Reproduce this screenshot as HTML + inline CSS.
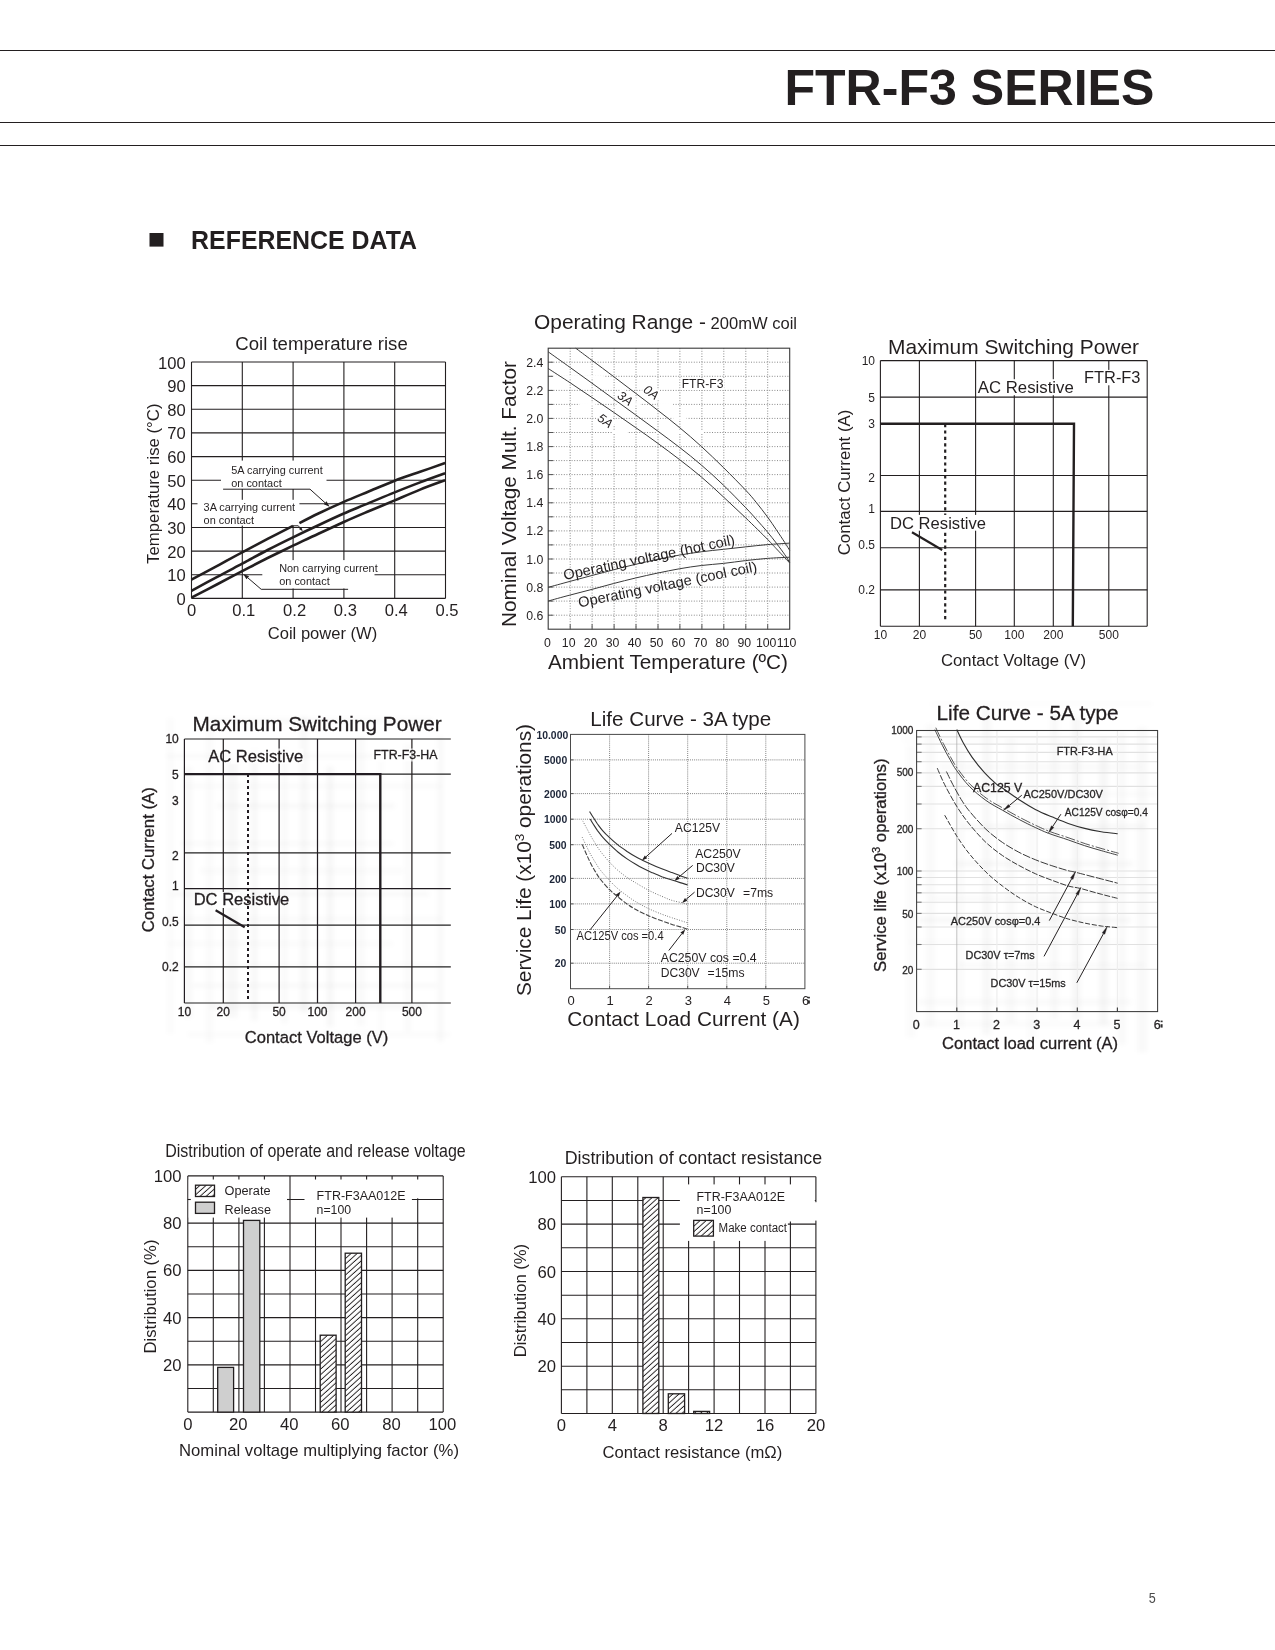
<!DOCTYPE html>
<html><head><meta charset="utf-8"><title>FTR-F3 SERIES</title>
<style>
html,body{margin:0;padding:0;background:#fff;overflow:hidden;}
svg{display:block;font-family:"Liberation Sans",sans-serif;fill:#231f20;}
</style></head><body>
<svg width="1275" height="1650" viewBox="0 0 1275 1650">
<defs>
<pattern id="hatch" patternUnits="userSpaceOnUse" width="4.1" height="4.1" patternTransform="rotate(-42)">
<rect x="0" y="0" width="4.1" height="4.1" fill="#fff"/>
<line x1="-1" y1="2" x2="5.1" y2="2" stroke="#231f20" stroke-width="0.95"/>
</pattern>
<filter id="noop" x="0" y="0" width="1275" height="1650" filterUnits="userSpaceOnUse"><feOffset dx="0" dy="0"/></filter>
<filter id="blurH" x="-5%" y="-5%" width="110%" height="110%"><feGaussianBlur stdDeviation="2.2"/></filter>
<filter id="blur4" x="-5%" y="-5%" width="110%" height="110%"><feGaussianBlur stdDeviation="0.45"/></filter>
</defs>
<rect x="0" y="0" width="1275" height="1650" fill="#fff"/>
<g filter="url(#noop)">
<line x1="0.0" y1="50.5" x2="1275.0" y2="50.5" stroke="#231f20" stroke-width="1" />
<line x1="0.0" y1="122.5" x2="1275.0" y2="122.5" stroke="#231f20" stroke-width="1" />
<line x1="0.0" y1="145.5" x2="1275.0" y2="145.5" stroke="#231f20" stroke-width="1" />
<text x="784.4" y="104.8" font-size="50" textLength="370.0" lengthAdjust="spacingAndGlyphs" font-weight="bold" >FTR-F3 SERIES</text>
<rect x="149.5" y="233.0" width="14.0" height="13.6" fill="#231f20" stroke="none" stroke-width="1" />
<text x="191.1" y="248.7" font-size="25" textLength="226.0" lengthAdjust="spacingAndGlyphs" font-weight="bold" >REFERENCE DATA</text>
<text x="1148.8" y="1603.0" font-size="14" textLength="7.0" lengthAdjust="spacingAndGlyphs" fill="#4a4a4a" >5</text>
<line x1="191.5" y1="362.0" x2="191.5" y2="598.4" stroke="#231f20" stroke-width="1.1" />
<line x1="242.3" y1="362.0" x2="242.3" y2="598.4" stroke="#231f20" stroke-width="1.1" />
<line x1="293.1" y1="362.0" x2="293.1" y2="598.4" stroke="#231f20" stroke-width="1.1" />
<line x1="343.9" y1="362.0" x2="343.9" y2="598.4" stroke="#231f20" stroke-width="1.1" />
<line x1="394.7" y1="362.0" x2="394.7" y2="598.4" stroke="#231f20" stroke-width="1.1" />
<line x1="445.5" y1="362.0" x2="445.5" y2="598.4" stroke="#231f20" stroke-width="1.1" />
<line x1="191.5" y1="362.0" x2="445.5" y2="362.0" stroke="#231f20" stroke-width="1.1" />
<line x1="191.5" y1="385.6" x2="445.5" y2="385.6" stroke="#231f20" stroke-width="1.1" />
<line x1="191.5" y1="409.3" x2="445.5" y2="409.3" stroke="#231f20" stroke-width="1.1" />
<line x1="191.5" y1="432.9" x2="445.5" y2="432.9" stroke="#231f20" stroke-width="1.1" />
<line x1="191.5" y1="456.6" x2="445.5" y2="456.6" stroke="#231f20" stroke-width="1.1" />
<line x1="191.5" y1="480.2" x2="445.5" y2="480.2" stroke="#231f20" stroke-width="1.1" />
<line x1="191.5" y1="503.8" x2="445.5" y2="503.8" stroke="#231f20" stroke-width="1.1" />
<line x1="191.5" y1="527.5" x2="445.5" y2="527.5" stroke="#231f20" stroke-width="1.1" />
<line x1="191.5" y1="551.1" x2="445.5" y2="551.1" stroke="#231f20" stroke-width="1.1" />
<line x1="191.5" y1="574.8" x2="445.5" y2="574.8" stroke="#231f20" stroke-width="1.1" />
<line x1="191.5" y1="598.4" x2="445.5" y2="598.4" stroke="#231f20" stroke-width="1.1" />
<rect x="221.0" y="460.6" width="105.5" height="28.4" fill="#fff" stroke="none" stroke-width="1" />
<rect x="197.5" y="499.8" width="101.9" height="25.8" fill="#fff" stroke="none" stroke-width="1" />
<rect x="262.3" y="560.1" width="112.2" height="28.4" fill="#fff" stroke="none" stroke-width="1" />
<text x="321.5" y="349.7" font-size="18.7" text-anchor="middle" textLength="172.5" lengthAdjust="spacingAndGlyphs" >Coil temperature rise</text>
<text x="185.8" y="368.5" font-size="16.6" text-anchor="end" >100</text>
<text x="185.8" y="392.1" font-size="16.6" text-anchor="end" >90</text>
<text x="185.8" y="415.8" font-size="16.6" text-anchor="end" >80</text>
<text x="185.8" y="439.4" font-size="16.6" text-anchor="end" >70</text>
<text x="185.8" y="463.1" font-size="16.6" text-anchor="end" >60</text>
<text x="185.8" y="486.7" font-size="16.6" text-anchor="end" >50</text>
<text x="185.8" y="510.3" font-size="16.6" text-anchor="end" >40</text>
<text x="185.8" y="534.0" font-size="16.6" text-anchor="end" >30</text>
<text x="185.8" y="557.6" font-size="16.6" text-anchor="end" >20</text>
<text x="185.8" y="581.3" font-size="16.6" text-anchor="end" >10</text>
<text x="185.8" y="604.9" font-size="16.6" text-anchor="end" >0</text>
<text x="191.5" y="616.4" font-size="16.6" text-anchor="middle" >0</text>
<text x="243.8" y="616.4" font-size="16.6" text-anchor="middle" >0.1</text>
<text x="294.6" y="616.4" font-size="16.6" text-anchor="middle" >0.2</text>
<text x="345.4" y="616.4" font-size="16.6" text-anchor="middle" >0.3</text>
<text x="396.2" y="616.4" font-size="16.6" text-anchor="middle" >0.4</text>
<text x="447.0" y="616.4" font-size="16.6" text-anchor="middle" >0.5</text>
<text x="322.5" y="638.6" font-size="16.6" text-anchor="middle" textLength="109.5" lengthAdjust="spacingAndGlyphs" >Coil power (W)</text>
<text x="159.1" y="483.7" font-size="16.6" text-anchor="middle" textLength="160.5" lengthAdjust="spacingAndGlyphs" transform="rotate(-90 159.1 483.7)" >Temperature rise (°C)</text>
<path d="M191.4,579.6 C195.6,577.3 208.3,570.6 216.8,566.1 C225.2,561.5 233.7,556.8 242.2,552.3 C250.7,547.8 259.1,543.4 267.6,538.9 C276.1,534.5 288.8,528.0 293.0,525.8" fill="none" stroke="#231f20" stroke-width="2.6" stroke-linecap="butt"/>
<path d="M299.4,523.1 C302.5,521.5 311.0,517.1 318.4,513.5 C325.8,510.0 335.4,505.6 343.8,501.9 C352.3,498.2 360.8,494.8 369.2,491.3 C377.7,487.8 386.2,484.0 394.7,480.7 C403.1,477.5 411.7,474.7 420.1,471.8 C428.5,468.9 440.9,464.6 445.1,463.1" fill="none" stroke="#231f20" stroke-width="2.6" stroke-linecap="butt"/>
<path d="M191.4,590.8 C195.6,588.5 208.3,581.6 216.8,577.1 C225.2,572.5 233.7,568.2 242.2,563.7 C250.7,559.2 259.1,554.4 267.6,550.0 C276.1,545.5 284.5,541.4 293.0,537.3 C301.5,533.1 309.9,529.1 318.4,525.2 C326.9,521.2 335.4,517.2 343.8,513.5 C352.3,509.8 360.8,506.5 369.2,502.9 C377.7,499.4 386.2,495.8 394.7,492.4 C403.1,488.9 411.7,485.6 420.1,482.4 C428.5,479.2 440.9,474.8 445.1,473.3" fill="none" stroke="#231f20" stroke-width="2.6" stroke-linecap="butt"/>
<path d="M191.4,597.6 C195.6,595.4 208.3,588.9 216.8,584.5 C225.2,580.1 233.7,575.5 242.2,571.1 C250.7,566.7 259.1,562.2 267.6,558.0 C276.1,553.8 284.5,549.8 293.0,545.7 C301.5,541.7 309.9,537.6 318.4,533.7 C326.9,529.7 335.4,525.8 343.8,522.0 C352.3,518.2 360.8,514.6 369.2,511.0 C377.7,507.4 386.2,504.0 394.7,500.4 C403.1,496.8 411.7,493.0 420.1,489.6 C428.5,486.2 440.9,481.8 445.1,480.3" fill="none" stroke="#231f20" stroke-width="2.6" stroke-linecap="butt"/>
<text x="231.2" y="473.9" font-size="10.85" textLength="91.5" lengthAdjust="spacingAndGlyphs" >5A carrying current</text>
<text x="231.2" y="487.1" font-size="10.85" textLength="50.5" lengthAdjust="spacingAndGlyphs" >on contact</text>
<text x="203.6" y="510.8" font-size="10.85" textLength="91.5" lengthAdjust="spacingAndGlyphs" >3A carrying current</text>
<text x="203.6" y="523.7" font-size="10.85" textLength="50.5" lengthAdjust="spacingAndGlyphs" >on contact</text>
<text x="279.2" y="572.2" font-size="10.85" textLength="98.5" lengthAdjust="spacingAndGlyphs" >Non carrying current</text>
<text x="279.2" y="585.1" font-size="10.85" textLength="50.5" lengthAdjust="spacingAndGlyphs" >on contact</text>
<line x1="223.1" y1="489.2" x2="310.0" y2="489.2" stroke="#231f20" stroke-width="1" />
<line x1="310.0" y1="489.2" x2="325.1" y2="502.8" stroke="#231f20" stroke-width="1" />
<polygon points="329.6,506.8 323.8,504.3 326.5,501.3" fill="#231f20"/>
<line x1="293.0" y1="525.8" x2="298.3" y2="525.8" stroke="#231f20" stroke-width="1" />
<line x1="298.3" y1="525.8" x2="300.2" y2="528.1" stroke="#231f20" stroke-width="1" />
<polygon points="302.7,531.2 298.9,529.1 301.4,527.1" fill="#231f20"/>
<line x1="348.1" y1="589.3" x2="261.2" y2="589.3" stroke="#231f20" stroke-width="1" />
<line x1="261.2" y1="589.3" x2="247.8" y2="577.8" stroke="#231f20" stroke-width="1" />
<polygon points="243.2,573.9 249.1,576.3 246.5,579.3" fill="#231f20"/>
<line x1="570.2" y1="348.2" x2="570.2" y2="629.2" stroke="#8a8a8a" stroke-width="1" stroke-dasharray="1 1.6"/>
<line x1="592.1" y1="348.2" x2="592.1" y2="629.2" stroke="#8a8a8a" stroke-width="1" stroke-dasharray="1 1.6"/>
<line x1="614.1" y1="348.2" x2="614.1" y2="629.2" stroke="#8a8a8a" stroke-width="1" stroke-dasharray="1 1.6"/>
<line x1="636.0" y1="348.2" x2="636.0" y2="629.2" stroke="#8a8a8a" stroke-width="1" stroke-dasharray="1 1.6"/>
<line x1="658.0" y1="348.2" x2="658.0" y2="629.2" stroke="#8a8a8a" stroke-width="1" stroke-dasharray="1 1.6"/>
<line x1="679.9" y1="348.2" x2="679.9" y2="629.2" stroke="#8a8a8a" stroke-width="1" stroke-dasharray="1 1.6"/>
<line x1="701.9" y1="348.2" x2="701.9" y2="629.2" stroke="#8a8a8a" stroke-width="1" stroke-dasharray="1 1.6"/>
<line x1="723.8" y1="348.2" x2="723.8" y2="629.2" stroke="#8a8a8a" stroke-width="1" stroke-dasharray="1 1.6"/>
<line x1="745.8" y1="348.2" x2="745.8" y2="629.2" stroke="#8a8a8a" stroke-width="1" stroke-dasharray="1 1.6"/>
<line x1="767.7" y1="348.2" x2="767.7" y2="629.2" stroke="#8a8a8a" stroke-width="1" stroke-dasharray="1 1.6"/>
<line x1="548.2" y1="362.2" x2="789.7" y2="362.2" stroke="#8a8a8a" stroke-width="1" stroke-dasharray="1 1.6"/>
<line x1="548.2" y1="376.3" x2="789.7" y2="376.3" stroke="#8a8a8a" stroke-width="1" stroke-dasharray="1 1.6"/>
<line x1="548.2" y1="390.4" x2="789.7" y2="390.4" stroke="#8a8a8a" stroke-width="1" stroke-dasharray="1 1.6"/>
<line x1="548.2" y1="404.4" x2="789.7" y2="404.4" stroke="#8a8a8a" stroke-width="1" stroke-dasharray="1 1.6"/>
<line x1="548.2" y1="418.4" x2="789.7" y2="418.4" stroke="#8a8a8a" stroke-width="1" stroke-dasharray="1 1.6"/>
<line x1="548.2" y1="432.5" x2="789.7" y2="432.5" stroke="#8a8a8a" stroke-width="1" stroke-dasharray="1 1.6"/>
<line x1="548.2" y1="446.6" x2="789.7" y2="446.6" stroke="#8a8a8a" stroke-width="1" stroke-dasharray="1 1.6"/>
<line x1="548.2" y1="460.6" x2="789.7" y2="460.6" stroke="#8a8a8a" stroke-width="1" stroke-dasharray="1 1.6"/>
<line x1="548.2" y1="474.6" x2="789.7" y2="474.6" stroke="#8a8a8a" stroke-width="1" stroke-dasharray="1 1.6"/>
<line x1="548.2" y1="488.7" x2="789.7" y2="488.7" stroke="#8a8a8a" stroke-width="1" stroke-dasharray="1 1.6"/>
<line x1="548.2" y1="502.8" x2="789.7" y2="502.8" stroke="#8a8a8a" stroke-width="1" stroke-dasharray="1 1.6"/>
<line x1="548.2" y1="516.8" x2="789.7" y2="516.8" stroke="#8a8a8a" stroke-width="1" stroke-dasharray="1 1.6"/>
<line x1="548.2" y1="530.9" x2="789.7" y2="530.9" stroke="#8a8a8a" stroke-width="1" stroke-dasharray="1 1.6"/>
<line x1="548.2" y1="544.9" x2="789.7" y2="544.9" stroke="#8a8a8a" stroke-width="1" stroke-dasharray="1 1.6"/>
<line x1="548.2" y1="559.0" x2="789.7" y2="559.0" stroke="#8a8a8a" stroke-width="1" stroke-dasharray="1 1.6"/>
<line x1="548.2" y1="573.0" x2="789.7" y2="573.0" stroke="#8a8a8a" stroke-width="1" stroke-dasharray="1 1.6"/>
<line x1="548.2" y1="587.1" x2="789.7" y2="587.1" stroke="#8a8a8a" stroke-width="1" stroke-dasharray="1 1.6"/>
<line x1="548.2" y1="601.1" x2="789.7" y2="601.1" stroke="#8a8a8a" stroke-width="1" stroke-dasharray="1 1.6"/>
<line x1="548.2" y1="615.2" x2="789.7" y2="615.2" stroke="#8a8a8a" stroke-width="1" stroke-dasharray="1 1.6"/>
<line x1="548.2" y1="362.2" x2="553.2" y2="362.2" stroke="#555" stroke-width="1" />
<line x1="548.2" y1="376.3" x2="553.2" y2="376.3" stroke="#555" stroke-width="1" />
<line x1="548.2" y1="390.4" x2="553.2" y2="390.4" stroke="#555" stroke-width="1" />
<line x1="548.2" y1="404.4" x2="553.2" y2="404.4" stroke="#555" stroke-width="1" />
<line x1="548.2" y1="418.4" x2="553.2" y2="418.4" stroke="#555" stroke-width="1" />
<line x1="548.2" y1="432.5" x2="553.2" y2="432.5" stroke="#555" stroke-width="1" />
<line x1="548.2" y1="446.6" x2="553.2" y2="446.6" stroke="#555" stroke-width="1" />
<line x1="548.2" y1="460.6" x2="553.2" y2="460.6" stroke="#555" stroke-width="1" />
<line x1="548.2" y1="474.6" x2="553.2" y2="474.6" stroke="#555" stroke-width="1" />
<line x1="548.2" y1="488.7" x2="553.2" y2="488.7" stroke="#555" stroke-width="1" />
<line x1="548.2" y1="502.8" x2="553.2" y2="502.8" stroke="#555" stroke-width="1" />
<line x1="548.2" y1="516.8" x2="553.2" y2="516.8" stroke="#555" stroke-width="1" />
<line x1="548.2" y1="530.9" x2="553.2" y2="530.9" stroke="#555" stroke-width="1" />
<line x1="548.2" y1="544.9" x2="553.2" y2="544.9" stroke="#555" stroke-width="1" />
<line x1="548.2" y1="559.0" x2="553.2" y2="559.0" stroke="#555" stroke-width="1" />
<line x1="548.2" y1="573.0" x2="553.2" y2="573.0" stroke="#555" stroke-width="1" />
<line x1="548.2" y1="587.1" x2="553.2" y2="587.1" stroke="#555" stroke-width="1" />
<line x1="548.2" y1="601.1" x2="553.2" y2="601.1" stroke="#555" stroke-width="1" />
<line x1="548.2" y1="615.2" x2="553.2" y2="615.2" stroke="#555" stroke-width="1" />
<line x1="570.2" y1="624.2" x2="570.2" y2="629.2" stroke="#555" stroke-width="1" />
<line x1="592.1" y1="624.2" x2="592.1" y2="629.2" stroke="#555" stroke-width="1" />
<line x1="614.1" y1="624.2" x2="614.1" y2="629.2" stroke="#555" stroke-width="1" />
<line x1="636.0" y1="624.2" x2="636.0" y2="629.2" stroke="#555" stroke-width="1" />
<line x1="658.0" y1="624.2" x2="658.0" y2="629.2" stroke="#555" stroke-width="1" />
<line x1="679.9" y1="624.2" x2="679.9" y2="629.2" stroke="#555" stroke-width="1" />
<line x1="701.9" y1="624.2" x2="701.9" y2="629.2" stroke="#555" stroke-width="1" />
<line x1="723.8" y1="624.2" x2="723.8" y2="629.2" stroke="#555" stroke-width="1" />
<line x1="745.8" y1="624.2" x2="745.8" y2="629.2" stroke="#555" stroke-width="1" />
<line x1="767.7" y1="624.2" x2="767.7" y2="629.2" stroke="#555" stroke-width="1" />
<rect x="548.2" y="348.2" width="241.5" height="281.0" fill="none" stroke="#3a3a3a" stroke-width="1.1" />
<text x="534.0" y="328.8" font-size="20.5" textLength="172.0" lengthAdjust="spacingAndGlyphs" >Operating Range - </text>
<text x="710.5" y="328.8" font-size="16.6" textLength="86.5" lengthAdjust="spacingAndGlyphs" >200mW coil</text>
<text x="515.8" y="494.0" font-size="20.7" text-anchor="middle" textLength="266.0" lengthAdjust="spacingAndGlyphs" transform="rotate(-90 515.8 494.0)" >Nominal Voltage Mult. Factor</text>
<text x="668.0" y="668.7" font-size="20.7" text-anchor="middle" textLength="240.0" lengthAdjust="spacingAndGlyphs" >Ambient Temperature (ºC)</text>
<text x="543.4" y="366.8" font-size="12.3" text-anchor="end" >2.4</text>
<text x="543.4" y="394.9" font-size="12.3" text-anchor="end" >2.2</text>
<text x="543.4" y="422.9" font-size="12.3" text-anchor="end" >2.0</text>
<text x="543.4" y="451.1" font-size="12.3" text-anchor="end" >1.8</text>
<text x="543.4" y="479.1" font-size="12.3" text-anchor="end" >1.6</text>
<text x="543.4" y="507.2" font-size="12.3" text-anchor="end" >1.4</text>
<text x="543.4" y="535.4" font-size="12.3" text-anchor="end" >1.2</text>
<text x="543.4" y="563.5" font-size="12.3" text-anchor="end" >1.0</text>
<text x="543.4" y="591.6" font-size="12.3" text-anchor="end" >0.8</text>
<text x="543.4" y="619.7" font-size="12.3" text-anchor="end" >0.6</text>
<text x="547.4" y="647.4" font-size="12.3" text-anchor="middle" >0</text>
<text x="568.7" y="647.4" font-size="12.3" text-anchor="middle" >10</text>
<text x="590.6" y="647.4" font-size="12.3" text-anchor="middle" >20</text>
<text x="612.6" y="647.4" font-size="12.3" text-anchor="middle" >30</text>
<text x="634.5" y="647.4" font-size="12.3" text-anchor="middle" >40</text>
<text x="656.5" y="647.4" font-size="12.3" text-anchor="middle" >50</text>
<text x="678.4" y="647.4" font-size="12.3" text-anchor="middle" >60</text>
<text x="700.4" y="647.4" font-size="12.3" text-anchor="middle" >70</text>
<text x="722.3" y="647.4" font-size="12.3" text-anchor="middle" >80</text>
<text x="744.3" y="647.4" font-size="12.3" text-anchor="middle" >90</text>
<text x="766.2" y="647.4" font-size="12.3" text-anchor="middle" >100</text>
<text x="786.6" y="647.4" font-size="12.3" text-anchor="middle" >110</text>
<path d="M548.3,587.3 C551.9,586.3 562.6,583.4 569.9,581.4 C577.2,579.4 584.6,577.4 591.9,575.5 C599.2,573.6 606.3,571.7 613.6,569.8 C620.9,567.9 628.3,566.0 635.6,564.3 C642.9,562.6 650.2,560.9 657.5,559.4 C664.8,557.9 672.0,556.4 679.3,555.1 C686.6,553.8 693.9,552.8 701.3,551.8 C708.7,550.8 716.1,550.1 723.5,549.3 C730.9,548.5 738.2,547.7 745.5,546.9 C752.8,546.1 760.0,545.2 767.4,544.6 C774.8,544.0 786.0,543.4 789.7,543.1" fill="none" stroke="#3a3a3a" stroke-width="1" />
<path d="M548.3,601.0 C551.9,600.0 562.6,597.0 569.9,595.1 C577.2,593.2 584.6,591.3 591.9,589.4 C599.2,587.5 606.3,585.4 613.6,583.5 C620.9,581.6 628.3,579.7 635.6,578.0 C642.9,576.3 650.2,574.6 657.5,573.1 C664.8,571.6 672.0,570.1 679.3,568.8 C686.6,567.5 693.9,566.4 701.3,565.5 C708.7,564.6 716.1,564.2 723.5,563.4 C730.9,562.6 738.2,561.4 745.5,560.6 C752.8,559.8 760.0,559.0 767.4,558.4 C774.8,557.8 786.0,557.4 789.7,557.2" fill="none" stroke="#3a3a3a" stroke-width="1" />
<rect x="553.2" y="375.4" width="50.7" height="2.4" fill="#fff" stroke="none" stroke-width="1" />
<rect x="579.3" y="403.1" width="16.4" height="2.4" fill="#fff" stroke="none" stroke-width="1" />
<rect x="616.5" y="403.1" width="23.9" height="2.4" fill="#fff" stroke="none" stroke-width="1" />
<rect x="658.3" y="403.1" width="14.9" height="2.4" fill="#fff" stroke="none" stroke-width="1" />
<rect x="673.2" y="417.1" width="13.4" height="2.4" fill="#fff" stroke="none" stroke-width="1" />
<rect x="612.0" y="431.0" width="15.7" height="2.4" fill="#fff" stroke="none" stroke-width="1" />
<rect x="657.0" y="431.0" width="46.0" height="2.4" fill="#fff" stroke="none" stroke-width="1" />
<rect x="680.6" y="378.0" width="43.6" height="11.9" fill="#fff" stroke="none" stroke-width="1" />
<rect x="642.0" y="380.8" width="18" height="12.5" fill="#fff" transform="rotate(36 642.5 391.3)"/>
<rect x="616.0" y="386.8" width="18" height="12.5" fill="#fff" transform="rotate(36 616.5 397.3)"/>
<rect x="596.0" y="409.2" width="18" height="12.5" fill="#fff" transform="rotate(36 596.5 419.7)"/>
<path d="M575.7,348.2 C578.4,350.2 585.6,355.6 592.0,360.4 C598.4,365.1 606.5,371.2 613.8,376.7 C621.1,382.2 628.5,387.8 635.8,393.4 C643.2,399.0 650.6,404.6 657.9,410.4 C665.2,416.1 672.4,421.6 679.7,427.7 C687.0,433.7 694.2,439.9 701.5,446.6 C708.8,453.3 716.2,460.4 723.5,467.6 C730.8,474.8 740.0,484.2 745.5,490.0 C751.0,495.8 752.8,498.1 756.4,502.6 C760.0,507.1 764.1,512.3 767.4,516.8 C770.7,521.3 773.4,525.4 776.3,529.7 C779.2,534.0 782.7,539.2 784.9,542.7 C787.1,546.2 788.9,549.1 789.7,550.4" fill="none" stroke="#3a3a3a" stroke-width="1" />
<path d="M548.2,351.8 C551.8,354.4 562.9,362.3 570.2,367.5 C577.5,372.8 584.7,378.0 592.0,383.2 C599.3,388.5 606.5,393.8 613.8,399.1 C621.1,404.4 628.5,409.7 635.8,415.0 C643.2,420.4 650.6,425.7 657.9,431.2 C665.2,436.6 672.4,441.8 679.7,447.5 C687.0,453.1 694.2,458.9 701.5,465.2 C708.8,471.5 716.2,478.1 723.5,485.2 C730.8,492.2 740.0,501.8 745.5,507.5 C751.0,513.2 752.8,515.3 756.4,519.4 C760.0,523.5 764.1,527.9 767.4,531.9 C770.7,535.9 773.4,539.3 776.3,543.1 C779.2,546.9 782.7,551.6 784.9,554.8 C787.1,558.0 788.9,561.2 789.7,562.5" fill="none" stroke="#3a3a3a" stroke-width="1" />
<path d="M548.2,368.5 C551.8,370.9 562.9,378.0 570.2,382.8 C577.5,387.6 584.7,392.6 592.0,397.5 C599.3,402.4 606.5,407.4 613.8,412.4 C621.1,417.4 628.5,422.5 635.8,427.7 C643.2,432.8 650.6,438.0 657.9,443.4 C665.2,448.7 672.4,454.1 679.7,459.7 C687.0,465.3 694.2,470.9 701.5,477.1 C708.8,483.3 716.2,490.2 723.5,497.0 C730.8,503.8 738.2,510.7 745.5,517.7 C752.8,524.7 762.3,534.0 767.4,539.2 C772.5,544.4 773.4,545.6 776.3,548.7 C779.2,551.8 782.7,555.4 784.9,557.8 C787.1,560.2 788.9,562.1 789.7,563.0" fill="none" stroke="#3a3a3a" stroke-width="1" />
<text x="681.7" y="387.9" font-size="12.2" textLength="41.8" lengthAdjust="spacingAndGlyphs" >FTR-F3</text>
<text x="642.5" y="391.3" font-size="12.5" font-style="italic" transform="rotate(36 642.5 391.3)" >0A</text>
<text x="616.5" y="397.3" font-size="12.5" font-style="italic" transform="rotate(36 616.5 397.3)" >3A</text>
<text x="596.5" y="419.7" font-size="12.5" font-style="italic" transform="rotate(36 596.5 419.7)" >5A</text>
<text x="564.6" y="580.0" font-size="14.58" textLength="174.7" lengthAdjust="spacingAndGlyphs" transform="rotate(-11.8 564.6 580.0)" >Operating voltage (hot coil)</text>
<text x="579.3" y="607.5" font-size="14.58" textLength="182.1" lengthAdjust="spacingAndGlyphs" transform="rotate(-11.5 579.3 607.5)" >Operating voltage (cool coil)</text>
<line x1="880.4" y1="360.6" x2="880.4" y2="626.2" stroke="#231f20" stroke-width="1.1" />
<line x1="919.4" y1="360.6" x2="919.4" y2="626.2" stroke="#231f20" stroke-width="1.1" />
<line x1="975.6" y1="360.6" x2="975.6" y2="626.2" stroke="#231f20" stroke-width="1.1" />
<line x1="1014.3" y1="360.6" x2="1014.3" y2="626.2" stroke="#231f20" stroke-width="1.1" />
<line x1="1053.3" y1="360.6" x2="1053.3" y2="626.2" stroke="#231f20" stroke-width="1.1" />
<line x1="1108.8" y1="360.6" x2="1108.8" y2="626.2" stroke="#231f20" stroke-width="1.1" />
<line x1="1147.2" y1="360.6" x2="1147.2" y2="626.2" stroke="#231f20" stroke-width="1.1" />
<line x1="880.4" y1="360.6" x2="1147.2" y2="360.6" stroke="#231f20" stroke-width="1.1" />
<line x1="880.4" y1="397.1" x2="1147.2" y2="397.1" stroke="#231f20" stroke-width="1.1" />
<line x1="880.4" y1="475.5" x2="1147.2" y2="475.5" stroke="#231f20" stroke-width="1.1" />
<line x1="880.4" y1="511.4" x2="1147.2" y2="511.4" stroke="#231f20" stroke-width="1.1" />
<line x1="880.4" y1="547.7" x2="1147.2" y2="547.7" stroke="#231f20" stroke-width="1.1" />
<line x1="880.4" y1="589.9" x2="1147.2" y2="589.9" stroke="#231f20" stroke-width="1.1" />
<line x1="880.4" y1="626.2" x2="1147.2" y2="626.2" stroke="#231f20" stroke-width="1.1" />
<line x1="945.2" y1="424.0" x2="945.2" y2="621.0" stroke="#231f20" stroke-width="2.2" stroke-dasharray="3.2 3.2"/>
<rect x="977.1" y="379.2" width="96.6" height="16.0" fill="#fff" stroke="none" stroke-width="1" />
<rect x="1083.6" y="369.9" width="58.2" height="15.4" fill="#fff" stroke="none" stroke-width="1" />
<rect x="889.3" y="514.9" width="97.7" height="15.8" fill="#fff" stroke="none" stroke-width="1" />
<text x="1013.5" y="353.5" font-size="20.83" text-anchor="middle" textLength="251.0" lengthAdjust="spacingAndGlyphs" >Maximum Switching Power</text>
<text x="1084.0" y="383.1" font-size="16.6" textLength="56.5" lengthAdjust="spacingAndGlyphs" >FTR-F3</text>
<text x="977.8" y="392.7" font-size="16.67" textLength="96.0" lengthAdjust="spacingAndGlyphs" >AC Resistive</text>
<text x="890.0" y="528.5" font-size="16.67" textLength="96.0" lengthAdjust="spacingAndGlyphs" >DC Resistive</text>
<path d="M880.4,423.8 H1074 L1072.8,626.2" fill="none" stroke="#231f20" stroke-width="2.4"/>
<line x1="912.0" y1="532.2" x2="942.2" y2="550.0" stroke="#231f20" stroke-width="2.2" />
<text x="875.0" y="364.9" font-size="12" text-anchor="end" >10</text>
<text x="875.0" y="401.6" font-size="12" text-anchor="end" >5</text>
<text x="875.0" y="427.5" font-size="12" text-anchor="end" >3</text>
<text x="875.0" y="482.1" font-size="12" text-anchor="end" >2</text>
<text x="875.0" y="512.8" font-size="12" text-anchor="end" >1</text>
<text x="875.0" y="549.1" font-size="12" text-anchor="end" >0.5</text>
<text x="875.0" y="594.1" font-size="12" text-anchor="end" >0.2</text>
<text x="880.4" y="639.4" font-size="12" text-anchor="middle" >10</text>
<text x="919.4" y="639.4" font-size="12" text-anchor="middle" >20</text>
<text x="975.6" y="639.4" font-size="12" text-anchor="middle" >50</text>
<text x="1014.3" y="639.4" font-size="12" text-anchor="middle" >100</text>
<text x="1053.3" y="639.4" font-size="12" text-anchor="middle" >200</text>
<text x="1108.8" y="639.4" font-size="12" text-anchor="middle" >500</text>
<text x="1013.5" y="665.9" font-size="16.67" text-anchor="middle" textLength="145.0" lengthAdjust="spacingAndGlyphs" >Contact Voltage (V)</text>
<text x="850.2" y="482.5" font-size="16.67" text-anchor="middle" textLength="145.6" lengthAdjust="spacingAndGlyphs" transform="rotate(-90 850.2 482.5)" >Contact Current (A)</text>
<g filter="url(#blurH)">
<rect x="167.0" y="718.2" width="6.4" height="316.0" fill="#000" stroke="none" stroke-width="1" opacity="0.015"/>
<rect x="184.5" y="767.1" width="7.4" height="250.9" fill="#000" stroke="none" stroke-width="1" opacity="0.027"/>
<rect x="205.4" y="728.6" width="8.2" height="314.5" fill="#000" stroke="none" stroke-width="1" opacity="0.014"/>
<rect x="227.1" y="761.7" width="10.6" height="256.0" fill="#000" stroke="none" stroke-width="1" opacity="0.028"/>
<rect x="250.8" y="749.6" width="6.9" height="271.1" fill="#000" stroke="none" stroke-width="1" opacity="0.029"/>
<rect x="281.7" y="748.4" width="5.5" height="274.8" fill="#000" stroke="none" stroke-width="1" opacity="0.022"/>
<rect x="300.1" y="717.4" width="7.8" height="295.3" fill="#000" stroke="none" stroke-width="1" opacity="0.029"/>
<rect x="326.7" y="766.5" width="6.8" height="260.6" fill="#000" stroke="none" stroke-width="1" opacity="0.030"/>
<rect x="357.0" y="736.8" width="8.1" height="289.2" fill="#000" stroke="none" stroke-width="1" opacity="0.021"/>
<rect x="377.7" y="760.8" width="6.8" height="287.5" fill="#000" stroke="none" stroke-width="1" opacity="0.013"/>
<rect x="404.5" y="744.1" width="6.7" height="287.1" fill="#000" stroke="none" stroke-width="1" opacity="0.019"/>
<rect x="437.2" y="736.8" width="6.2" height="305.1" fill="#000" stroke="none" stroke-width="1" opacity="0.025"/>
<rect x="207.8" y="718.0" width="224.9" height="4.4" fill="#000" stroke="none" stroke-width="1" opacity="0.022"/>
<rect x="166.7" y="754.5" width="271.6" height="3.4" fill="#000" stroke="none" stroke-width="1" opacity="0.026"/>
<rect x="182.9" y="784.2" width="258.5" height="3.9" fill="#000" stroke="none" stroke-width="1" opacity="0.020"/>
<rect x="216.8" y="803.0" width="178.0" height="5.8" fill="#000" stroke="none" stroke-width="1" opacity="0.025"/>
<rect x="180.3" y="842.0" width="213.7" height="3.1" fill="#000" stroke="none" stroke-width="1" opacity="0.026"/>
<rect x="200.2" y="867.3" width="202.7" height="6.8" fill="#000" stroke="none" stroke-width="1" opacity="0.017"/>
<rect x="171.2" y="891.9" width="257.9" height="4.8" fill="#000" stroke="none" stroke-width="1" opacity="0.029"/>
<rect x="165.7" y="917.3" width="276.1" height="3.0" fill="#000" stroke="none" stroke-width="1" opacity="0.026"/>
<rect x="168.8" y="941.6" width="224.3" height="4.2" fill="#000" stroke="none" stroke-width="1" opacity="0.020"/>
<rect x="166.3" y="963.9" width="275.6" height="3.2" fill="#000" stroke="none" stroke-width="1" opacity="0.024"/>
<rect x="192.4" y="984.1" width="244.6" height="3.2" fill="#000" stroke="none" stroke-width="1" opacity="0.030"/>
<rect x="209.4" y="1003.8" width="218.0" height="5.1" fill="#000" stroke="none" stroke-width="1" opacity="0.030"/>
<rect x="187.6" y="1032.4" width="262.2" height="4.0" fill="#000" stroke="none" stroke-width="1" opacity="0.020"/>
</g>
<g filter="url(#blurH)">
<rect x="906.0" y="745.3" width="9.8" height="292.3" fill="#000" stroke="none" stroke-width="1" opacity="0.017"/>
<rect x="925.8" y="724.2" width="9.0" height="302.4" fill="#000" stroke="none" stroke-width="1" opacity="0.019"/>
<rect x="957.1" y="744.1" width="6.6" height="283.7" fill="#000" stroke="none" stroke-width="1" opacity="0.020"/>
<rect x="982.3" y="707.6" width="9.1" height="327.3" fill="#000" stroke="none" stroke-width="1" opacity="0.028"/>
<rect x="1005.7" y="737.1" width="9.8" height="286.1" fill="#000" stroke="none" stroke-width="1" opacity="0.019"/>
<rect x="1027.0" y="744.3" width="9.8" height="294.9" fill="#000" stroke="none" stroke-width="1" opacity="0.014"/>
<rect x="1049.9" y="713.5" width="8.8" height="305.5" fill="#000" stroke="none" stroke-width="1" opacity="0.024"/>
<rect x="1071.9" y="717.6" width="8.9" height="302.1" fill="#000" stroke="none" stroke-width="1" opacity="0.030"/>
<rect x="1099.1" y="737.9" width="8.9" height="286.9" fill="#000" stroke="none" stroke-width="1" opacity="0.032"/>
<rect x="1118.4" y="732.1" width="7.2" height="312.7" fill="#000" stroke="none" stroke-width="1" opacity="0.024"/>
<rect x="1137.0" y="727.5" width="10.3" height="324.8" fill="#000" stroke="none" stroke-width="1" opacity="0.025"/>
<rect x="931.0" y="702.0" width="220.7" height="3.8" fill="#000" stroke="none" stroke-width="1" opacity="0.016"/>
<rect x="902.8" y="737.1" width="210.6" height="5.8" fill="#000" stroke="none" stroke-width="1" opacity="0.012"/>
<rect x="939.2" y="763.5" width="202.4" height="6.6" fill="#000" stroke="none" stroke-width="1" opacity="0.019"/>
<rect x="962.0" y="791.9" width="194.8" height="3.5" fill="#000" stroke="none" stroke-width="1" opacity="0.020"/>
<rect x="960.9" y="824.4" width="184.4" height="4.6" fill="#000" stroke="none" stroke-width="1" opacity="0.030"/>
<rect x="955.4" y="860.8" width="177.8" height="5.7" fill="#000" stroke="none" stroke-width="1" opacity="0.027"/>
<rect x="930.3" y="896.4" width="187.4" height="5.1" fill="#000" stroke="none" stroke-width="1" opacity="0.019"/>
<rect x="917.9" y="917.2" width="212.8" height="6.0" fill="#000" stroke="none" stroke-width="1" opacity="0.026"/>
<rect x="909.4" y="940.6" width="215.2" height="3.1" fill="#000" stroke="none" stroke-width="1" opacity="0.018"/>
<rect x="957.7" y="962.8" width="187.1" height="4.8" fill="#000" stroke="none" stroke-width="1" opacity="0.019"/>
<rect x="918.1" y="999.2" width="213.4" height="5.4" fill="#000" stroke="none" stroke-width="1" opacity="0.021"/>
<rect x="920.3" y="1021.5" width="191.4" height="4.5" fill="#000" stroke="none" stroke-width="1" opacity="0.018"/>
</g>
<g filter="url(#blur4)" stroke="#231f20" stroke-width="0.3">
<line x1="184.4" y1="739.0" x2="184.4" y2="1003.0" stroke="#231f20" stroke-width="1.2" />
<line x1="223.3" y1="739.0" x2="223.3" y2="1003.0" stroke="#231f20" stroke-width="1.2" />
<line x1="279.1" y1="739.0" x2="279.1" y2="1003.0" stroke="#231f20" stroke-width="1.2" />
<line x1="317.5" y1="739.0" x2="317.5" y2="1003.0" stroke="#231f20" stroke-width="1.2" />
<line x1="355.6" y1="739.0" x2="355.6" y2="1003.0" stroke="#231f20" stroke-width="1.2" />
<line x1="411.9" y1="739.0" x2="411.9" y2="1003.0" stroke="#231f20" stroke-width="1.2" />
<line x1="184.4" y1="739.0" x2="450.8" y2="739.0" stroke="#231f20" stroke-width="1.2" />
<line x1="184.4" y1="774.1" x2="450.8" y2="774.1" stroke="#231f20" stroke-width="1.2" />
<line x1="184.4" y1="852.9" x2="450.8" y2="852.9" stroke="#231f20" stroke-width="1.2" />
<line x1="184.4" y1="888.6" x2="450.8" y2="888.6" stroke="#231f20" stroke-width="1.2" />
<line x1="184.4" y1="925.1" x2="450.8" y2="925.1" stroke="#231f20" stroke-width="1.2" />
<line x1="184.4" y1="966.8" x2="450.8" y2="966.8" stroke="#231f20" stroke-width="1.2" />
<line x1="184.4" y1="1003.0" x2="450.8" y2="1003.0" stroke="#231f20" stroke-width="1.2" />
<line x1="248.0" y1="774.0" x2="248.0" y2="1001.0" stroke="#231f20" stroke-width="2.0" stroke-dasharray="3 3"/>
<rect x="216.0" y="892.0" width="24.0" height="16.0" fill="#fff" stroke="none" stroke-width="1" />
<rect x="231.0" y="748.5" width="72.5" height="15.3" fill="#fff" stroke="none" stroke-width="1" opacity="0.7"/>
<rect x="372.0" y="748.5" width="67.0" height="13.0" fill="#fff" stroke="none" stroke-width="1" opacity="0.7"/>
<path d="M184.4,774.1 H380.3 V1003" fill="none" stroke="#231f20" stroke-width="2.4"/>
<text x="192.6" y="731.0" font-size="20.83" textLength="249.0" lengthAdjust="spacingAndGlyphs" >Maximum Switching Power</text>
<text x="208.2" y="761.8" font-size="16.67" textLength="95.0" lengthAdjust="spacingAndGlyphs" >AC Resistive</text>
<text x="373.5" y="759.0" font-size="12.3" textLength="64.0" lengthAdjust="spacingAndGlyphs" >FTR-F3-HA</text>
<text x="193.7" y="905.0" font-size="16.67" textLength="95.5" lengthAdjust="spacingAndGlyphs" >DC Resistive</text>
<line x1="215.6" y1="910.3" x2="244.7" y2="927.3" stroke="#231f20" stroke-width="2.2" />
<text x="178.8" y="743.3" font-size="12" text-anchor="end" >10</text>
<text x="178.8" y="778.8" font-size="12" text-anchor="end" >5</text>
<text x="178.8" y="804.9" font-size="12" text-anchor="end" >3</text>
<text x="178.8" y="859.6" font-size="12" text-anchor="end" >2</text>
<text x="178.8" y="889.5" font-size="12" text-anchor="end" >1</text>
<text x="178.8" y="925.7" font-size="12" text-anchor="end" >0.5</text>
<text x="178.8" y="970.6" font-size="12" text-anchor="end" >0.2</text>
<text x="184.4" y="1015.7" font-size="12" text-anchor="middle" >10</text>
<text x="223.3" y="1015.7" font-size="12" text-anchor="middle" >20</text>
<text x="279.1" y="1015.7" font-size="12" text-anchor="middle" >50</text>
<text x="317.5" y="1015.7" font-size="12" text-anchor="middle" >100</text>
<text x="355.6" y="1015.7" font-size="12" text-anchor="middle" >200</text>
<text x="411.9" y="1015.7" font-size="12" text-anchor="middle" >500</text>
<text x="316.5" y="1043.0" font-size="16.67" text-anchor="middle" textLength="143.5" lengthAdjust="spacingAndGlyphs" >Contact Voltage (V)</text>
<text x="154.2" y="859.8" font-size="16.67" text-anchor="middle" textLength="145.1" lengthAdjust="spacingAndGlyphs" transform="rotate(-90 154.2 859.8)" >Contact Current (A)</text>
</g>
<line x1="609.6" y1="734.4" x2="609.6" y2="988.7" stroke="#808080" stroke-width="1" stroke-dasharray="1 1.06"/>
<line x1="648.6" y1="734.4" x2="648.6" y2="988.7" stroke="#808080" stroke-width="1" stroke-dasharray="1 1.06"/>
<line x1="687.7" y1="734.4" x2="687.7" y2="988.7" stroke="#808080" stroke-width="1" stroke-dasharray="1 1.06"/>
<line x1="726.8" y1="734.4" x2="726.8" y2="988.7" stroke="#808080" stroke-width="1" stroke-dasharray="1 1.06"/>
<line x1="765.8" y1="734.4" x2="765.8" y2="988.7" stroke="#808080" stroke-width="1" stroke-dasharray="1 1.06"/>
<line x1="570.5" y1="759.9" x2="804.9" y2="759.9" stroke="#808080" stroke-width="1" stroke-dasharray="1 1.06"/>
<line x1="570.5" y1="759.9" x2="573.5" y2="759.9" stroke="#555" stroke-width="1" />
<line x1="570.5" y1="793.6" x2="804.9" y2="793.6" stroke="#808080" stroke-width="1" stroke-dasharray="1 1.06"/>
<line x1="570.5" y1="793.6" x2="573.5" y2="793.6" stroke="#555" stroke-width="1" />
<line x1="570.5" y1="819.2" x2="804.9" y2="819.2" stroke="#808080" stroke-width="1" stroke-dasharray="1 1.06"/>
<line x1="570.5" y1="819.2" x2="573.5" y2="819.2" stroke="#555" stroke-width="1" />
<line x1="570.5" y1="844.7" x2="804.9" y2="844.7" stroke="#808080" stroke-width="1" stroke-dasharray="1 1.06"/>
<line x1="570.5" y1="844.7" x2="573.5" y2="844.7" stroke="#555" stroke-width="1" />
<line x1="570.5" y1="878.4" x2="804.9" y2="878.4" stroke="#808080" stroke-width="1" stroke-dasharray="1 1.06"/>
<line x1="570.5" y1="878.4" x2="573.5" y2="878.4" stroke="#555" stroke-width="1" />
<line x1="570.5" y1="903.9" x2="804.9" y2="903.9" stroke="#808080" stroke-width="1" stroke-dasharray="1 1.06"/>
<line x1="570.5" y1="903.9" x2="573.5" y2="903.9" stroke="#555" stroke-width="1" />
<line x1="570.5" y1="929.5" x2="804.9" y2="929.5" stroke="#808080" stroke-width="1" stroke-dasharray="1 1.06"/>
<line x1="570.5" y1="929.5" x2="573.5" y2="929.5" stroke="#555" stroke-width="1" />
<line x1="570.5" y1="963.2" x2="804.9" y2="963.2" stroke="#808080" stroke-width="1" stroke-dasharray="1 1.06"/>
<line x1="570.5" y1="963.2" x2="573.5" y2="963.2" stroke="#555" stroke-width="1" />
<line x1="609.6" y1="985.7" x2="609.6" y2="988.7" stroke="#555" stroke-width="1" />
<line x1="648.6" y1="985.7" x2="648.6" y2="988.7" stroke="#555" stroke-width="1" />
<line x1="687.7" y1="985.7" x2="687.7" y2="988.7" stroke="#555" stroke-width="1" />
<line x1="726.8" y1="985.7" x2="726.8" y2="988.7" stroke="#555" stroke-width="1" />
<line x1="765.8" y1="985.7" x2="765.8" y2="988.7" stroke="#555" stroke-width="1" />
<rect x="570.5" y="734.4" width="234.4" height="254.3" fill="none" stroke="#4a4a4a" stroke-width="1.0" />
<text x="680.8" y="725.7" font-size="20.83" text-anchor="middle" textLength="181.0" lengthAdjust="spacingAndGlyphs" >Life Curve - 3A type</text>
<text x="531.2" y="860.0" font-size="20.83" text-anchor="middle" textLength="272.0" lengthAdjust="spacingAndGlyphs" transform="rotate(-90 531.2 860.0)" >Service Life (x10<tspan font-size="13.5" dy="-7">3</tspan><tspan dy="7"> operations)</tspan></text>
<text x="683.6" y="1026.0" font-size="20.83" text-anchor="middle" textLength="232.5" lengthAdjust="spacingAndGlyphs" >Contact Load Current (A)</text>
<rect x="807.6" y="996.8" width="2.3" height="1.6" fill="#333" stroke="none" stroke-width="1" />
<rect x="807.6" y="1000.4" width="2.3" height="3.2" fill="#333" stroke="none" stroke-width="1" />
<text x="568.2" y="738.5" font-size="10.4" text-anchor="end" font-weight="bold" fill="#1c2538" >10.000</text>
<text x="567.2" y="764.0" font-size="10.4" text-anchor="end" font-weight="bold" fill="#1c2538" >5000</text>
<text x="567.2" y="797.7" font-size="10.4" text-anchor="end" font-weight="bold" fill="#1c2538" >2000</text>
<text x="567.2" y="823.3" font-size="10.4" text-anchor="end" font-weight="bold" fill="#1c2538" >1000</text>
<text x="566.6" y="848.8" font-size="10.4" text-anchor="end" font-weight="bold" fill="#1c2538" >500</text>
<text x="566.6" y="882.5" font-size="10.4" text-anchor="end" font-weight="bold" fill="#1c2538" >200</text>
<text x="566.6" y="908.0" font-size="10.4" text-anchor="end" font-weight="bold" fill="#1c2538" >100</text>
<text x="566.2" y="933.6" font-size="10.4" text-anchor="end" font-weight="bold" fill="#1c2538" >50</text>
<text x="566.2" y="967.3" font-size="10.4" text-anchor="end" font-weight="bold" fill="#1c2538" >20</text>
<text x="571.1" y="1005.4" font-size="13" text-anchor="middle" >0</text>
<text x="610.2" y="1005.4" font-size="13" text-anchor="middle" >1</text>
<text x="649.2" y="1005.4" font-size="13" text-anchor="middle" >2</text>
<text x="688.3" y="1005.4" font-size="13" text-anchor="middle" >3</text>
<text x="727.4" y="1005.4" font-size="13" text-anchor="middle" >4</text>
<text x="766.4" y="1005.4" font-size="13" text-anchor="middle" >5</text>
<text x="805.5" y="1005.4" font-size="13" text-anchor="middle" >6</text>
<path d="M589.6,811.4 C590.2,812.5 592.1,815.8 593.5,817.8 C594.8,819.9 596.0,821.8 597.5,824.0 C599.1,826.1 600.6,828.3 602.6,830.6 C604.6,832.9 607.0,835.3 609.6,837.7 C612.1,840.1 615.0,842.6 617.9,844.9 C620.8,847.2 624.2,849.5 627.1,851.5 C630.0,853.4 632.7,855.1 635.3,856.6 C637.8,858.0 639.7,858.8 642.4,860.2 C645.1,861.5 648.3,863.0 651.6,864.4 C654.8,865.9 658.4,867.5 661.8,868.8 C665.2,870.2 668.9,871.5 672.0,872.6 C675.0,873.7 677.5,874.7 680.1,875.7 C682.7,876.6 686.3,877.9 687.6,878.3" fill="none" stroke="#333" stroke-width="1.1" />
<path d="M590.2,818.9 C590.7,819.8 592.2,822.5 593.5,824.5 C594.7,826.4 596.0,828.5 597.5,830.6 C599.1,832.7 600.6,834.9 602.6,837.2 C604.6,839.5 607.0,841.9 609.6,844.4 C612.1,846.8 615.0,849.6 617.9,852.0 C620.8,854.4 624.2,856.9 627.1,858.9 C630.0,860.9 632.7,862.5 635.3,864.0 C637.8,865.6 639.7,866.7 642.4,868.1 C645.1,869.5 648.3,871.0 651.6,872.4 C654.8,873.8 658.4,875.4 661.8,876.7 C665.2,877.9 668.9,879.1 672.0,880.0 C675.0,881.0 677.5,881.8 680.1,882.6 C682.7,883.4 686.3,884.5 687.6,884.8" fill="none" stroke="#333" stroke-width="1.1" />
<path d="M582.7,820.9 C583.3,822.0 585.0,825.1 586.3,827.5 C587.6,829.9 588.9,832.5 590.4,835.2 C591.9,837.9 593.8,841.1 595.5,843.8 C597.2,846.6 598.2,848.4 600.6,851.5 C602.9,854.5 606.7,859.1 609.6,862.2 C612.4,865.3 615.0,867.8 617.9,870.4 C620.8,872.9 624.2,875.4 627.1,877.5 C630.0,879.5 631.7,880.5 635.3,882.6 C638.8,884.7 644.1,887.9 648.5,890.2 C652.9,892.5 657.9,894.7 661.8,896.3 C665.7,898.0 668.6,899.4 672.0,900.4 C675.4,901.5 679.6,902.1 682.2,902.8 C684.8,903.5 686.7,904.2 687.6,904.5" fill="none" stroke="#777" stroke-width="1" stroke-dasharray="1 1.5"/>
<path d="M582.2,837.2 C582.9,838.7 585.0,843.1 586.3,845.9 C587.7,848.7 588.9,851.2 590.4,854.0 C591.9,856.8 593.8,860.0 595.5,862.7 C597.2,865.4 598.2,867.4 600.6,870.4 C602.9,873.3 606.7,877.5 609.6,880.5 C612.4,883.6 615.0,886.2 617.9,888.7 C620.8,891.3 624.2,893.7 627.1,895.8 C630.0,898.0 631.7,899.3 635.3,901.4 C638.8,903.6 644.1,906.5 648.5,908.6 C652.9,910.7 657.9,912.7 661.8,914.2 C665.7,915.7 667.7,916.3 672.0,917.8 C676.3,919.2 685.0,922.0 687.6,922.9" fill="none" stroke="#777" stroke-width="1" stroke-dasharray="1 1.5"/>
<path d="M582.2,844.4 C582.9,846.0 585.0,851.0 586.3,854.0 C587.7,857.1 588.9,859.7 590.4,862.7 C591.9,865.7 593.8,869.1 595.5,871.9 C597.2,874.7 598.2,876.6 600.6,879.5 C602.9,882.5 606.7,886.8 609.6,889.7 C612.4,892.6 615.0,894.5 617.9,896.9 C620.8,899.2 624.2,901.9 627.1,904.0 C630.0,906.1 631.7,907.3 635.3,909.3 C638.8,911.3 644.1,913.8 648.5,915.7 C652.9,917.6 657.9,919.4 661.8,920.8 C665.7,922.3 668.6,923.3 672.0,924.4 C675.4,925.5 679.6,926.6 682.2,927.4 C684.8,928.3 686.7,929.0 687.6,929.3" fill="none" stroke="#444" stroke-width="1.1" stroke-dasharray="5 1.5"/>
<g transform="translate(0 0.5)">
<text x="674.8" y="831.4" font-size="12.5" textLength="45.2" lengthAdjust="spacingAndGlyphs" >AC125V</text>
<text x="695.2" y="857.4" font-size="12.5" textLength="45.5" lengthAdjust="spacingAndGlyphs" >AC250V</text>
<text x="695.9" y="871.9" font-size="12.5" textLength="39.0" lengthAdjust="spacingAndGlyphs" >DC30V</text>
<text x="695.9" y="896.4" font-size="12.5" textLength="39.0" lengthAdjust="spacingAndGlyphs" >DC30V</text>
<text x="743.0" y="896.4" font-size="12.5" textLength="30.2" lengthAdjust="spacingAndGlyphs" >=7ms</text>
<text x="576.6" y="939.6" font-size="12" textLength="87.0" lengthAdjust="spacingAndGlyphs" >AC125V cos =0.4</text>
<text x="660.7" y="961.3" font-size="12.5" textLength="96.0" lengthAdjust="spacingAndGlyphs" >AC250V cos =0.4</text>
<text x="660.7" y="976.0" font-size="12.5" textLength="39.0" lengthAdjust="spacingAndGlyphs" >DC30V</text>
<text x="707.5" y="976.0" font-size="12.5" textLength="37.0" lengthAdjust="spacingAndGlyphs" >=15ms</text>
<line x1="672.0" y1="832.9" x2="646.0" y2="856.3" stroke="#231f20" stroke-width="1" />
<polygon points="641.9,860.0 644.8,855.0 647.2,857.7" fill="#231f20"/>
<line x1="692.7" y1="864.9" x2="678.6" y2="876.8" stroke="#231f20" stroke-width="1" />
<polygon points="674.4,880.4 677.4,875.5 679.8,878.2" fill="#231f20"/>
<line x1="694.6" y1="891.6" x2="686.2" y2="898.8" stroke="#231f20" stroke-width="1" />
<polygon points="682.0,902.4 685.0,897.5 687.3,900.2" fill="#231f20"/>
<line x1="590.1" y1="929.3" x2="617.2" y2="895.4" stroke="#231f20" stroke-width="1" />
<polygon points="620.6,891.1 618.6,896.5 615.8,894.3" fill="#231f20"/>
<line x1="668.8" y1="950.0" x2="681.8" y2="933.2" stroke="#231f20" stroke-width="1" />
<polygon points="685.2,928.9 683.2,934.3 680.4,932.1" fill="#231f20"/>
</g>
<g filter="url(#blur4)" stroke="#231f20" stroke-width="0.3">
<line x1="916.6" y1="736.9" x2="1157.6" y2="736.9" stroke="#e1e1e1" stroke-width="1.15" />
<line x1="916.6" y1="736.9" x2="921.6" y2="736.9" stroke="#777" stroke-width="1.1" />
<line x1="916.6" y1="744.1" x2="1157.6" y2="744.1" stroke="#e1e1e1" stroke-width="1.15" />
<line x1="916.6" y1="744.1" x2="921.6" y2="744.1" stroke="#777" stroke-width="1.1" />
<line x1="916.6" y1="752.3" x2="1157.6" y2="752.3" stroke="#e1e1e1" stroke-width="1.15" />
<line x1="916.6" y1="752.3" x2="921.6" y2="752.3" stroke="#777" stroke-width="1.1" />
<line x1="916.6" y1="761.7" x2="1157.6" y2="761.7" stroke="#e1e1e1" stroke-width="1.15" />
<line x1="916.6" y1="761.7" x2="921.6" y2="761.7" stroke="#777" stroke-width="1.1" />
<line x1="916.6" y1="772.8" x2="1157.6" y2="772.8" stroke="#e1e1e1" stroke-width="1.15" />
<line x1="916.6" y1="772.8" x2="921.6" y2="772.8" stroke="#777" stroke-width="1.1" />
<line x1="916.6" y1="786.4" x2="1157.6" y2="786.4" stroke="#e1e1e1" stroke-width="1.15" />
<line x1="916.6" y1="786.4" x2="921.6" y2="786.4" stroke="#777" stroke-width="1.1" />
<line x1="916.6" y1="804.0" x2="1157.6" y2="804.0" stroke="#e1e1e1" stroke-width="1.15" />
<line x1="916.6" y1="804.0" x2="921.6" y2="804.0" stroke="#777" stroke-width="1.1" />
<line x1="916.6" y1="828.7" x2="1157.6" y2="828.7" stroke="#e1e1e1" stroke-width="1.15" />
<line x1="916.6" y1="828.7" x2="921.6" y2="828.7" stroke="#777" stroke-width="1.1" />
<line x1="916.6" y1="871.0" x2="1157.6" y2="871.0" stroke="#e1e1e1" stroke-width="1.15" />
<line x1="916.6" y1="871.0" x2="921.6" y2="871.0" stroke="#777" stroke-width="1.1" />
<line x1="916.6" y1="877.5" x2="1157.6" y2="877.5" stroke="#e1e1e1" stroke-width="1.15" />
<line x1="916.6" y1="877.5" x2="921.6" y2="877.5" stroke="#777" stroke-width="1.1" />
<line x1="916.6" y1="884.7" x2="1157.6" y2="884.7" stroke="#e1e1e1" stroke-width="1.15" />
<line x1="916.6" y1="884.7" x2="921.6" y2="884.7" stroke="#777" stroke-width="1.1" />
<line x1="916.6" y1="892.8" x2="1157.6" y2="892.8" stroke="#e1e1e1" stroke-width="1.15" />
<line x1="916.6" y1="892.8" x2="921.6" y2="892.8" stroke="#777" stroke-width="1.1" />
<line x1="916.6" y1="902.2" x2="1157.6" y2="902.2" stroke="#e1e1e1" stroke-width="1.15" />
<line x1="916.6" y1="902.2" x2="921.6" y2="902.2" stroke="#777" stroke-width="1.1" />
<line x1="916.6" y1="913.4" x2="1157.6" y2="913.4" stroke="#e1e1e1" stroke-width="1.15" />
<line x1="916.6" y1="913.4" x2="921.6" y2="913.4" stroke="#777" stroke-width="1.1" />
<line x1="916.6" y1="927.0" x2="1157.6" y2="927.0" stroke="#e1e1e1" stroke-width="1.15" />
<line x1="916.6" y1="927.0" x2="921.6" y2="927.0" stroke="#777" stroke-width="1.1" />
<line x1="916.6" y1="944.5" x2="1157.6" y2="944.5" stroke="#e1e1e1" stroke-width="1.15" />
<line x1="916.6" y1="944.5" x2="921.6" y2="944.5" stroke="#777" stroke-width="1.1" />
<line x1="916.6" y1="969.3" x2="1157.6" y2="969.3" stroke="#e1e1e1" stroke-width="1.15" />
<line x1="916.6" y1="969.3" x2="921.6" y2="969.3" stroke="#777" stroke-width="1.1" />
<line x1="996.9" y1="730.5" x2="996.9" y2="1011.6" stroke="#eeeeee" stroke-width="1.2" />
<line x1="1037.1" y1="730.5" x2="1037.1" y2="1011.6" stroke="#eeeeee" stroke-width="1.2" />
<line x1="1077.3" y1="730.5" x2="1077.3" y2="1011.6" stroke="#eeeeee" stroke-width="1.2" />
<line x1="1117.4" y1="730.5" x2="1117.4" y2="1011.6" stroke="#eeeeee" stroke-width="1.2" />
<line x1="956.8" y1="730.5" x2="956.8" y2="1011.6" stroke="#b0b0b0" stroke-width="0.8" />
<line x1="956.8" y1="1007.6" x2="956.8" y2="1011.6" stroke="#444" stroke-width="1.2" />
<line x1="996.9" y1="1007.6" x2="996.9" y2="1011.6" stroke="#444" stroke-width="1.2" />
<line x1="1037.1" y1="1007.6" x2="1037.1" y2="1011.6" stroke="#444" stroke-width="1.2" />
<line x1="1077.3" y1="1007.6" x2="1077.3" y2="1011.6" stroke="#444" stroke-width="1.2" />
<line x1="1117.4" y1="1007.6" x2="1117.4" y2="1011.6" stroke="#444" stroke-width="1.2" />
<rect x="916.6" y="730.5" width="241.0" height="281.1" fill="none" stroke="#3a3a3a" stroke-width="1.05" />
<text x="1027.6" y="719.8" font-size="20.83" text-anchor="middle" textLength="182.0" lengthAdjust="spacingAndGlyphs" >Life Curve - 5A type</text>
<text x="886.1" y="865.2" font-size="16.67" text-anchor="middle" textLength="213.5" lengthAdjust="spacingAndGlyphs" transform="rotate(-90 886.1 865.2)" >Service life (x10<tspan font-size="11" dy="-6">3</tspan><tspan dy="6"> operations)</tspan></text>
<text x="1030.0" y="1049.1" font-size="16.67" text-anchor="middle" textLength="176.0" lengthAdjust="spacingAndGlyphs" >Contact load current (A)</text>
<text x="913.4" y="733.8" font-size="10.0" text-anchor="end" fill="#2a2a2a" >1000</text>
<text x="913.4" y="776.4" font-size="10.0" text-anchor="end" fill="#2a2a2a" >500</text>
<text x="913.4" y="832.7" font-size="10.0" text-anchor="end" fill="#2a2a2a" >200</text>
<text x="913.4" y="875.3" font-size="10.0" text-anchor="end" fill="#2a2a2a" >100</text>
<text x="913.4" y="917.9" font-size="10.0" text-anchor="end" fill="#2a2a2a" >50</text>
<text x="913.4" y="974.2" font-size="10.0" text-anchor="end" fill="#2a2a2a" >20</text>
<text x="916.3" y="1029.3" font-size="12.5" text-anchor="middle" fill="#2a2a2a" >0</text>
<text x="956.5" y="1029.3" font-size="12.5" text-anchor="middle" fill="#2a2a2a" >1</text>
<text x="996.6" y="1029.3" font-size="12.5" text-anchor="middle" fill="#2a2a2a" >2</text>
<text x="1036.8" y="1029.3" font-size="12.5" text-anchor="middle" fill="#2a2a2a" >3</text>
<text x="1077.0" y="1029.3" font-size="12.5" text-anchor="middle" fill="#2a2a2a" >4</text>
<text x="1117.1" y="1029.3" font-size="12.5" text-anchor="middle" fill="#2a2a2a" >5</text>
<text x="1157.3" y="1029.3" font-size="12.5" text-anchor="middle" fill="#2a2a2a" >6</text>
<path d="M956.8,729.6 C957.9,731.9 961.0,738.7 963.5,743.3 C966.0,747.9 968.5,752.2 972.0,757.1 C975.5,762.0 980.5,768.3 984.7,772.9 C988.9,777.5 994.0,782.1 997.0,784.6 C1000.0,787.1 998.8,785.5 1002.4,788.0 C1006.0,790.5 1013.3,795.9 1018.8,799.5 C1024.3,803.1 1029.8,806.5 1035.3,809.4 C1040.8,812.3 1046.3,814.5 1051.8,816.8 C1057.3,819.1 1062.7,821.5 1068.2,823.4 C1073.7,825.3 1079.2,827.0 1084.7,828.4 C1090.2,829.8 1095.7,830.8 1101.2,831.7 C1106.7,832.6 1115.0,833.4 1117.7,833.7" fill="none" stroke="#2e2e2e" stroke-width="1.1" />
<path d="M934.9,729.6 C936.1,732.2 939.9,740.5 942.4,745.4 C944.9,750.3 947.4,755.0 949.8,759.2 C952.2,763.4 953.3,766.0 956.6,770.5 C959.9,775.0 964.5,781.4 969.4,786.4 C974.3,791.4 980.4,796.4 985.9,800.4 C991.4,804.4 996.9,807.1 1002.4,810.2 C1007.9,813.4 1013.3,816.4 1018.8,819.3 C1024.3,822.2 1030.3,825.2 1035.3,827.5 C1040.2,829.8 1043.0,831.2 1048.5,833.3 C1054.0,835.4 1062.2,837.8 1068.2,839.9 C1074.2,842.0 1079.2,843.9 1084.7,845.7 C1090.2,847.5 1095.7,849.0 1101.2,850.6 C1106.7,852.2 1115.0,854.4 1117.7,855.2" fill="none" stroke="#2e2e2e" stroke-width="0.9" />
<path d="M935.8,727.7 C937.0,730.3 940.8,738.6 943.3,743.5 C945.8,748.4 948.3,753.1 950.7,757.3 C953.1,761.5 954.2,764.1 957.5,768.6 C960.8,773.1 965.4,779.5 970.3,784.5 C975.2,789.5 981.3,794.5 986.8,798.5 C992.3,802.5 997.8,805.2 1003.3,808.3 C1008.8,811.5 1014.2,814.5 1019.7,817.4 C1025.2,820.3 1031.2,823.3 1036.2,825.6 C1041.2,827.9 1043.9,829.3 1049.4,831.4 C1054.9,833.5 1063.1,835.9 1069.1,838.0 C1075.1,840.1 1080.1,842.0 1085.6,843.8 C1091.1,845.6 1096.6,847.1 1102.1,848.7 C1107.6,850.3 1115.9,852.5 1118.6,853.3" fill="none" stroke="#2e2e2e" stroke-width="0.8" stroke-dasharray="10 2 2 2"/>
<path d="M946.4,771.5 C947.5,773.7 950.4,780.0 952.9,784.7 C955.4,789.4 958.5,795.1 961.2,799.5 C964.0,803.9 965.3,806.1 969.4,811.1 C973.5,816.1 980.4,824.0 985.9,829.2 C991.4,834.4 996.9,838.6 1002.4,842.4 C1007.9,846.2 1013.3,849.3 1018.8,852.2 C1024.3,855.1 1029.8,857.5 1035.3,859.7 C1040.8,862.0 1046.3,863.9 1051.8,865.7 C1057.3,867.5 1064.2,869.6 1068.2,870.7 C1072.2,871.8 1070.2,870.9 1075.7,872.3 C1081.2,873.7 1094.2,877.1 1101.2,878.9 C1108.2,880.7 1115.0,882.5 1117.7,883.2" fill="none" stroke="#2e2e2e" stroke-width="0.95" stroke-dasharray="8 1.6"/>
<path d="M937.3,768.2 C938.5,771.0 941.5,778.4 944.7,784.7 C947.9,791.0 952.5,799.5 956.6,806.1 C960.7,812.7 964.5,818.2 969.4,824.2 C974.3,830.2 980.4,837.2 985.9,842.4 C991.4,847.6 996.9,851.7 1002.4,855.5 C1007.9,859.3 1013.3,862.4 1018.8,865.4 C1024.3,868.4 1029.8,871.2 1035.3,873.7 C1040.8,876.2 1046.3,878.2 1051.8,880.2 C1057.3,882.2 1063.4,884.6 1068.2,886.0 C1073.0,887.4 1075.1,887.1 1080.6,888.5 C1086.1,889.9 1095.0,892.6 1101.2,894.2 C1107.4,895.9 1115.0,897.7 1117.7,898.4" fill="none" stroke="#2e2e2e" stroke-width="0.95" stroke-dasharray="6 1.6"/>
<path d="M944.7,815.2 C946.7,818.6 952.5,829.3 956.6,835.8 C960.7,842.2 964.5,847.9 969.4,853.9 C974.3,859.9 980.4,866.6 985.9,872.0 C991.4,877.4 996.9,881.8 1002.4,886.0 C1007.9,890.2 1013.3,894.1 1018.8,897.5 C1024.3,900.9 1029.8,904.0 1035.3,906.6 C1040.8,909.2 1046.3,911.1 1051.8,913.2 C1057.3,915.3 1062.7,917.4 1068.2,919.0 C1073.7,920.6 1079.2,921.9 1084.7,923.1 C1090.2,924.3 1097.4,925.4 1101.2,926.0 C1105.0,926.6 1105.0,926.4 1107.8,926.7 C1110.5,927.0 1116.0,927.5 1117.7,927.7" fill="none" stroke="#2e2e2e" stroke-width="0.95" stroke-dasharray="5 1.8"/>
<rect x="1160.6" y="1020.6" width="2.0" height="1.6" fill="#333" stroke="none" stroke-width="1" />
<rect x="1160.6" y="1024.2" width="2.0" height="3.4" fill="#333" stroke="none" stroke-width="1" />
<text x="1056.7" y="754.9" font-size="11.5" textLength="56.0" lengthAdjust="spacingAndGlyphs" fill="#2a2a2a" >FTR-F3-HA</text>
<text x="973.0" y="791.6" font-size="12.8" textLength="49.3" lengthAdjust="spacingAndGlyphs" >AC125 V</text>
<text x="1023.5" y="798.4" font-size="11.8" textLength="79.4" lengthAdjust="spacingAndGlyphs" fill="#2a2a2a" >AC250V/DC30V</text>
<text x="1064.8" y="816.4" font-size="11.8" textLength="83.0" lengthAdjust="spacingAndGlyphs" fill="#2a2a2a" >AC125V cosφ=0.4</text>
<text x="950.8" y="924.6" font-size="11.8" textLength="89.6" lengthAdjust="spacingAndGlyphs" fill="#2a2a2a" >AC250V cosφ=0.4</text>
<text x="965.6" y="958.5" font-size="11.8" textLength="69.2" lengthAdjust="spacingAndGlyphs" fill="#2a2a2a" >DC30V τ=7ms</text>
<text x="990.6" y="987.1" font-size="11.8" textLength="75.2" lengthAdjust="spacingAndGlyphs" fill="#2a2a2a" >DC30V τ=15ms</text>
<line x1="1021.8" y1="795.2" x2="1009.3" y2="805.5" stroke="#231f20" stroke-width="1" />
<polygon points="1003.1,810.6 1008.3,804.4 1010.2,806.7" fill="#231f20"/>
<line x1="1060.9" y1="814.2" x2="1052.6" y2="826.6" stroke="#231f20" stroke-width="1" />
<polygon points="1048.2,833.3 1051.4,825.8 1053.9,827.5" fill="#231f20"/>
<line x1="1049.3" y1="920.6" x2="1071.7" y2="878.7" stroke="#231f20" stroke-width="1" />
<polygon points="1075.7,871.2 1073.0,879.4 1070.4,878.0" fill="#231f20"/>
<line x1="1044.0" y1="956.4" x2="1077.1" y2="894.6" stroke="#231f20" stroke-width="1" />
<polygon points="1081.1,887.1 1078.4,895.3 1075.8,893.9" fill="#231f20"/>
<line x1="1076.8" y1="982.8" x2="1103.5" y2="933.6" stroke="#231f20" stroke-width="1" />
<polygon points="1107.5,926.1 1104.8,934.3 1102.1,932.9" fill="#231f20"/>
</g>
<line x1="187.8" y1="1175.9" x2="187.8" y2="1412.1" stroke="#231f20" stroke-width="1.1" />
<line x1="213.3" y1="1175.9" x2="213.3" y2="1412.1" stroke="#231f20" stroke-width="1.1" />
<line x1="238.9" y1="1175.9" x2="238.9" y2="1412.1" stroke="#231f20" stroke-width="1.1" />
<line x1="264.4" y1="1175.9" x2="264.4" y2="1412.1" stroke="#231f20" stroke-width="1.1" />
<line x1="290.0" y1="1175.9" x2="290.0" y2="1412.1" stroke="#231f20" stroke-width="1.1" />
<line x1="315.5" y1="1175.9" x2="315.5" y2="1412.1" stroke="#231f20" stroke-width="1.1" />
<line x1="341.0" y1="1175.9" x2="341.0" y2="1412.1" stroke="#231f20" stroke-width="1.1" />
<line x1="366.6" y1="1175.9" x2="366.6" y2="1412.1" stroke="#231f20" stroke-width="1.1" />
<line x1="392.1" y1="1175.9" x2="392.1" y2="1412.1" stroke="#231f20" stroke-width="1.1" />
<line x1="417.7" y1="1175.9" x2="417.7" y2="1412.1" stroke="#231f20" stroke-width="1.1" />
<line x1="443.2" y1="1175.9" x2="443.2" y2="1412.1" stroke="#231f20" stroke-width="1.1" />
<line x1="187.8" y1="1175.9" x2="443.2" y2="1175.9" stroke="#231f20" stroke-width="1.1" />
<line x1="187.8" y1="1199.5" x2="443.2" y2="1199.5" stroke="#231f20" stroke-width="1.1" />
<line x1="187.8" y1="1223.1" x2="443.2" y2="1223.1" stroke="#231f20" stroke-width="1.1" />
<line x1="187.8" y1="1246.8" x2="443.2" y2="1246.8" stroke="#231f20" stroke-width="1.1" />
<line x1="187.8" y1="1270.4" x2="443.2" y2="1270.4" stroke="#231f20" stroke-width="1.1" />
<line x1="187.8" y1="1294.0" x2="443.2" y2="1294.0" stroke="#231f20" stroke-width="1.1" />
<line x1="187.8" y1="1317.6" x2="443.2" y2="1317.6" stroke="#231f20" stroke-width="1.1" />
<line x1="187.8" y1="1341.2" x2="443.2" y2="1341.2" stroke="#231f20" stroke-width="1.1" />
<line x1="187.8" y1="1364.9" x2="443.2" y2="1364.9" stroke="#231f20" stroke-width="1.1" />
<line x1="187.8" y1="1388.5" x2="443.2" y2="1388.5" stroke="#231f20" stroke-width="1.1" />
<line x1="187.8" y1="1412.1" x2="443.2" y2="1412.1" stroke="#231f20" stroke-width="1.1" />
<rect x="188.7" y="1179.5" width="99.7" height="38.1" fill="#fff" stroke="none" stroke-width="1" />
<rect x="291.0" y="1179.5" width="151.2" height="18.8" fill="#fff" stroke="none" stroke-width="1" />
<rect x="304.5" y="1197.5" width="107.4" height="20.1" fill="#fff" stroke="none" stroke-width="1" />
<line x1="187.8" y1="1199.5" x2="190.8" y2="1199.5" stroke="#231f20" stroke-width="1.1" />
<line x1="287.0" y1="1199.5" x2="290.0" y2="1199.5" stroke="#231f20" stroke-width="1.1" />
<text x="315.5" y="1157.3" font-size="18.7" text-anchor="middle" textLength="300.5" lengthAdjust="spacingAndGlyphs" >Distribution of operate and release voltage</text>
<text x="181.6" y="1181.9" font-size="16.67" text-anchor="end" >100</text>
<text x="181.6" y="1229.1" font-size="16.67" text-anchor="end" >80</text>
<text x="181.6" y="1276.4" font-size="16.67" text-anchor="end" >60</text>
<text x="181.6" y="1323.6" font-size="16.67" text-anchor="end" >40</text>
<text x="181.6" y="1370.9" font-size="16.67" text-anchor="end" >20</text>
<text x="187.8" y="1430.3" font-size="16.67" text-anchor="middle" >0</text>
<text x="238.2" y="1430.3" font-size="16.67" text-anchor="middle" >20</text>
<text x="289.3" y="1430.3" font-size="16.67" text-anchor="middle" >40</text>
<text x="340.3" y="1430.3" font-size="16.67" text-anchor="middle" >60</text>
<text x="391.4" y="1430.3" font-size="16.67" text-anchor="middle" >80</text>
<text x="442.5" y="1430.3" font-size="16.67" text-anchor="middle" >100</text>
<text x="319.0" y="1455.5" font-size="15.9" text-anchor="middle" textLength="280.0" lengthAdjust="spacingAndGlyphs" >Nominal voltage multiplying factor (%)</text>
<text x="156.0" y="1296.5" font-size="16.67" text-anchor="middle" textLength="114.0" lengthAdjust="spacingAndGlyphs" transform="rotate(-90 156.0 1296.5)" >Distribution (%)</text>
<rect x="217.7" y="1367.4" width="15.9" height="44.7" fill="#fff"/>
<rect x="217.7" y="1367.4" width="15.9" height="44.7" fill="#cfcfcf" stroke="#231f20" stroke-width="1.3"/>
<rect x="243.5" y="1220.4" width="16.3" height="191.7" fill="#fff"/>
<rect x="243.5" y="1220.4" width="16.3" height="191.7" fill="#cfcfcf" stroke="#231f20" stroke-width="1.3"/>
<rect x="320.2" y="1335.2" width="15.9" height="76.9" fill="#fff"/>
<rect x="320.2" y="1335.2" width="15.9" height="76.9" fill="url(#hatch)" stroke="#231f20" stroke-width="1.3"/>
<rect x="345.2" y="1253.2" width="16.3" height="158.9" fill="#fff"/>
<rect x="345.2" y="1253.2" width="16.3" height="158.9" fill="url(#hatch)" stroke="#231f20" stroke-width="1.3"/>
<rect x="195.5" y="1185.2" width="19.0" height="11.3" fill="#fff"/>
<rect x="195.5" y="1185.2" width="19.0" height="11.3" fill="url(#hatch)" stroke="#231f20" stroke-width="1.3"/>
<rect x="195.5" y="1202.2" width="19.0" height="11.2" fill="#fff"/>
<rect x="195.5" y="1202.2" width="19.0" height="11.2" fill="#cfcfcf" stroke="#231f20" stroke-width="1.3"/>
<text x="224.5" y="1194.5" font-size="12.5" textLength="46.0" lengthAdjust="spacingAndGlyphs" >Operate</text>
<text x="224.5" y="1213.6" font-size="12.5" textLength="46.5" lengthAdjust="spacingAndGlyphs" >Release</text>
<text x="316.6" y="1199.9" font-size="12.5" textLength="89.0" lengthAdjust="spacingAndGlyphs" >FTR-F3AA012E</text>
<text x="316.6" y="1213.6" font-size="12.5" textLength="34.5" lengthAdjust="spacingAndGlyphs" >n=100</text>
<line x1="561.4" y1="1176.8" x2="561.4" y2="1413.5" stroke="#231f20" stroke-width="1.1" />
<line x1="586.9" y1="1176.8" x2="586.9" y2="1413.5" stroke="#231f20" stroke-width="1.1" />
<line x1="612.3" y1="1176.8" x2="612.3" y2="1413.5" stroke="#231f20" stroke-width="1.1" />
<line x1="637.8" y1="1176.8" x2="637.8" y2="1413.5" stroke="#231f20" stroke-width="1.1" />
<line x1="663.2" y1="1176.8" x2="663.2" y2="1413.5" stroke="#231f20" stroke-width="1.1" />
<line x1="688.6" y1="1176.8" x2="688.6" y2="1413.5" stroke="#231f20" stroke-width="1.1" />
<line x1="714.1" y1="1176.8" x2="714.1" y2="1413.5" stroke="#231f20" stroke-width="1.1" />
<line x1="739.5" y1="1176.8" x2="739.5" y2="1413.5" stroke="#231f20" stroke-width="1.1" />
<line x1="765.0" y1="1176.8" x2="765.0" y2="1413.5" stroke="#231f20" stroke-width="1.1" />
<line x1="790.4" y1="1176.8" x2="790.4" y2="1413.5" stroke="#231f20" stroke-width="1.1" />
<line x1="815.9" y1="1176.8" x2="815.9" y2="1413.5" stroke="#231f20" stroke-width="1.1" />
<line x1="561.4" y1="1176.8" x2="815.9" y2="1176.8" stroke="#231f20" stroke-width="1.1" />
<line x1="561.4" y1="1200.5" x2="815.9" y2="1200.5" stroke="#231f20" stroke-width="1.1" />
<line x1="561.4" y1="1224.1" x2="815.9" y2="1224.1" stroke="#231f20" stroke-width="1.1" />
<line x1="561.4" y1="1247.8" x2="815.9" y2="1247.8" stroke="#231f20" stroke-width="1.1" />
<line x1="561.4" y1="1271.5" x2="815.9" y2="1271.5" stroke="#231f20" stroke-width="1.1" />
<line x1="561.4" y1="1295.2" x2="815.9" y2="1295.2" stroke="#231f20" stroke-width="1.1" />
<line x1="561.4" y1="1318.8" x2="815.9" y2="1318.8" stroke="#231f20" stroke-width="1.1" />
<line x1="561.4" y1="1342.5" x2="815.9" y2="1342.5" stroke="#231f20" stroke-width="1.1" />
<line x1="561.4" y1="1366.2" x2="815.9" y2="1366.2" stroke="#231f20" stroke-width="1.1" />
<line x1="561.4" y1="1389.8" x2="815.9" y2="1389.8" stroke="#231f20" stroke-width="1.1" />
<line x1="561.4" y1="1413.5" x2="815.9" y2="1413.5" stroke="#231f20" stroke-width="1.1" />
<rect x="679.9" y="1184.4" width="134.9" height="37.1" fill="#fff" stroke="none" stroke-width="1" />
<rect x="814.0" y="1202.2" width="4.0" height="18.4" fill="#fff" stroke="none" stroke-width="1" />
<rect x="679.9" y="1220.8" width="108.0" height="20.1" fill="#fff" stroke="none" stroke-width="1" />
<text x="693.4" y="1163.7" font-size="18.6" text-anchor="middle" textLength="257.5" lengthAdjust="spacingAndGlyphs" >Distribution of contact resistance</text>
<text x="556.0" y="1182.8" font-size="16.67" text-anchor="end" >100</text>
<text x="556.0" y="1230.1" font-size="16.67" text-anchor="end" >80</text>
<text x="556.0" y="1277.5" font-size="16.67" text-anchor="end" >60</text>
<text x="556.0" y="1324.8" font-size="16.67" text-anchor="end" >40</text>
<text x="556.0" y="1372.2" font-size="16.67" text-anchor="end" >20</text>
<text x="561.4" y="1431.4" font-size="16.67" text-anchor="middle" >0</text>
<text x="612.3" y="1431.4" font-size="16.67" text-anchor="middle" >4</text>
<text x="663.2" y="1431.4" font-size="16.67" text-anchor="middle" >8</text>
<text x="714.1" y="1431.4" font-size="16.67" text-anchor="middle" >12</text>
<text x="765.0" y="1431.4" font-size="16.67" text-anchor="middle" >16</text>
<text x="815.9" y="1431.4" font-size="16.67" text-anchor="middle" >20</text>
<text x="692.4" y="1457.6" font-size="16.4" text-anchor="middle" textLength="179.8" lengthAdjust="spacingAndGlyphs" >Contact resistance (mΩ)</text>
<text x="526.5" y="1300.6" font-size="16.67" text-anchor="middle" textLength="113.5" lengthAdjust="spacingAndGlyphs" transform="rotate(-90 526.5 1300.6)" >Distribution (%)</text>
<rect x="642.9" y="1197.5" width="15.9" height="216.0" fill="#fff"/>
<rect x="642.9" y="1197.5" width="15.9" height="216.0" fill="url(#hatch)" stroke="#231f20" stroke-width="1.3"/>
<rect x="668.3" y="1393.8" width="16.3" height="19.7" fill="#fff"/>
<rect x="668.3" y="1393.8" width="16.3" height="19.7" fill="url(#hatch)" stroke="#231f20" stroke-width="1.3"/>
<rect x="693.7" y="1411.4" width="15.9" height="2.1" fill="#fff"/>
<rect x="693.7" y="1411.4" width="15.9" height="2.1" fill="url(#hatch)" stroke="#231f20" stroke-width="1.3"/>
<rect x="693.7" y="1220.4" width="19.7" height="15.7" fill="#fff"/>
<rect x="693.7" y="1220.4" width="19.7" height="15.7" fill="url(#hatch)" stroke="#231f20" stroke-width="1.3"/>
<text x="696.5" y="1201.1" font-size="12.5" textLength="88.6" lengthAdjust="spacingAndGlyphs" >FTR-F3AA012E</text>
<text x="696.5" y="1214.3" font-size="12.5" textLength="34.8" lengthAdjust="spacingAndGlyphs" >n=100</text>
<text x="718.6" y="1231.9" font-size="12" textLength="68.4" lengthAdjust="spacingAndGlyphs" >Make contact</text>
</g>
</svg>
</body></html>
